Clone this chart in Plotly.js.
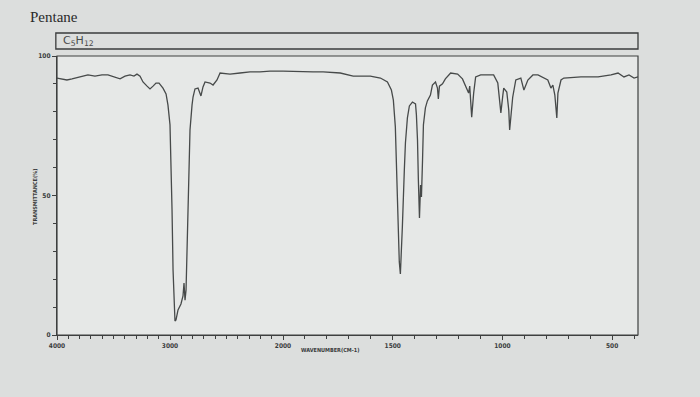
<!DOCTYPE html>
<html>
<head>
<meta charset="utf-8">
<script src="https://cdn.plot.ly/plotly-3.0.1.min.js"></script>
<style>html,body{margin:0;padding:0;background:#dcdedd;}#chart{width:700px;height:397px;}</style>
</head>
<body>
<div id="chart"></div>
<script>
// High-wavenumber section (4000-2000 cm-1), compressed scale
const highWn = [4000,3956,3912,3867,3796,3726,3664,3602,3549,3487,3442,3398,3354,3319,3292,3265,3239,3203,3177,3150,3124,3097,3062,3035,3018,3000,2991,2982,2973,2965,2956,2947,2929,2903,2885,2876,2867,2858,2850,2841,2832,2823,2805,2796,2779,2752,2726,2708,2690,2646,2619,2584,2557,2469,2380,2292,2204,2115,2000];
const highT  = [92.1,91.8,91.4,91.8,92.5,93.2,92.8,93.2,93.2,92.5,91.8,92.8,93.2,92.8,93.5,92.8,90.7,89.2,88.2,89.2,90.3,90.3,88.5,86.4,82.4,75.3,62.7,44.8,23.3,10.8,5.0,5.4,9.0,11.1,14.0,18.6,12.5,16.1,30.5,41.2,59.1,73.5,82.4,85.3,88.2,88.5,85.7,88.9,90.7,90.3,89.6,91.4,93.9,93.5,93.9,94.3,94.3,94.6,94.6];
// Low-wavenumber section (2000-380 cm-1), expanded scale
const lowWn = [2000,1922,1863,1817,1739,1680,1602,1556,1524,1506,1497,1488,1479,1474,1470,1465,1461,1456,1447,1442,1433,1424,1410,1396,1392,1387,1383,1378,1373,1369,1364,1360,1351,1342,1328,1319,1305,1296,1292,1287,1273,1260,1236,1204,1182,1168,1154,1149,1140,1131,1122,1099,1040,1021,1007,998,994,980,971,967,957,953,939,916,902,884,861,838,793,779,770,761,752,747,733,720,642,564,505,473,446,423,400,382];
const lowT  = [94.6,94.3,94.3,94.3,93.9,92.8,92.8,92.1,90.7,87.8,84.2,74.6,50.9,34.1,26.2,21.9,28.7,38.7,59.1,68.8,77.8,82.1,83.5,82.8,78.9,69.9,55.6,41.9,53.8,49.5,62.7,75.3,81.4,83.9,86.0,89.6,90.7,88.5,84.6,89.2,90.0,91.8,93.9,93.5,91.8,88.9,86.7,89.2,78.1,86.7,92.5,93.2,93.2,90.3,79.6,86.0,88.5,87.1,80.6,73.5,82.4,85.3,91.4,92.1,87.8,91.4,93.2,93.2,91.4,88.5,89.6,86.0,77.8,86.7,91.4,92.1,92.5,92.5,93.2,93.9,92.5,93.2,92.1,92.5];
const highTicks = [4000,3000,2000];
const highTickText = ['4000','3000','2000'];
const lowTicks = [1500,1000,500];
const lowTickText = ['1500','1000','500'];
const yTicks = [0,50,100];
const yTickText = ['0','50','100'];

const lineStyle = {color:'#474a4a', width:1.3};
const tickFont = {family:'DejaVu Sans Condensed, Arial, sans-serif', size:6.5, color:'#3a3c3c', weight:'bold'};
const axisCol = '#3e4040';

const traces = [
  {x:highWn, y:highT, type:'scatter', mode:'lines', line:lineStyle, xaxis:'x', yaxis:'y', hoverinfo:'skip'},
  {x:lowWn, y:lowT, type:'scatter', mode:'lines', line:lineStyle, xaxis:'x2', yaxis:'y', hoverinfo:'skip'}
];

const split = 226/581;
const layout = {
  width:700, height:397,
  margin:{l:57, r:62, t:56, b:62},
  paper_bgcolor:'#dcdedd',
  plot_bgcolor:'#e6e8e7',
  showlegend:false,
  title:{text:'Pentane', x:30/700, xanchor:'left', xref:'container', y:1-17/397, yanchor:'middle', yref:'container',
         font:{family:'Liberation Serif, DejaVu Serif, serif', size:15, color:'#2a2a2a'}},
  xaxis:{domain:[0,split], range:[4000,2000], anchor:'y', showgrid:false, zeroline:false,
         showline:true, linecolor:axisCol, linewidth:1.2,
         tickmode:'array', tickvals:highTicks, ticktext:highTickText, ticks:'outside', ticklen:4, tickcolor:axisCol,
         minor:{dtick:100, tick0:0, ticks:'outside', ticklen:2.5, tickcolor:axisCol, showgrid:false},
         tickfont:tickFont, fixedrange:true},
  xaxis2:{domain:[split,1], range:[2000,382], anchor:'y', showgrid:false, zeroline:false,
         showline:true, linecolor:axisCol, linewidth:1.2,
         tickmode:'array', tickvals:lowTicks, ticktext:lowTickText, ticks:'outside', ticklen:4, tickcolor:axisCol,
         minor:{dtick:100, tick0:0, ticks:'outside', ticklen:2.5, tickcolor:axisCol, showgrid:false},
         tickfont:tickFont, fixedrange:true},
  yaxis:{range:[0,100], anchor:'x', showgrid:false, zeroline:false, showline:true, linecolor:axisCol, linewidth:1.2,
         tickmode:'array', tickvals:yTicks, ticktext:yTickText, ticks:'outside', ticklen:4, tickcolor:axisCol,
         minor:{dtick:10, tick0:0, ticks:'outside', ticklen:2.5, tickcolor:axisCol, showgrid:false},
         tickfont:tickFont, fixedrange:true},
  shapes:[
    {type:'rect', xref:'paper', yref:'paper', x0:0, x1:1, y0:0, y1:1, line:{color:axisCol, width:1.2}, fillcolor:'rgba(0,0,0,0)'},
    {type:'rect', xref:'paper', yref:'paper', x0:-0.002, x1:1, y0:1+7/279, y1:1+23/279, line:{color:'#3a3c3c', width:1.3}, fillcolor:'rgba(0,0,0,0)'}
  ],
  annotations:[
    {text:'C<sub>5</sub>H<sub>12</sub>', xref:'paper', yref:'paper', x:4/581, y:1+15/279, xanchor:'left', yanchor:'middle', showarrow:false,
     font:{family:'DejaVu Sans, sans-serif', size:11, color:'#4a4c4c'}},
    {text:'WAVENUMBER(CM-1)', xref:'paper', yref:'paper', x:(330-57)/581, y:-15/279, xanchor:'center', yanchor:'middle', showarrow:false,
     font:{family:'DejaVu Sans Condensed, Arial, sans-serif', size:5.5, color:'#3a3c3c', weight:'bold'}},
    {text:'TRANSMITTANCE(%)', xref:'paper', yref:'paper', x:-22/581, y:(335-197)/279, xanchor:'center', yanchor:'middle', textangle:-90, showarrow:false,
     font:{family:'DejaVu Sans Condensed, Arial, sans-serif', size:5.5, color:'#3a3c3c', weight:'bold'}}
  ]
};

Plotly.newPlot('chart', traces, layout, {staticPlot:true, displayModeBar:false});
</script>
</body>
</html>
